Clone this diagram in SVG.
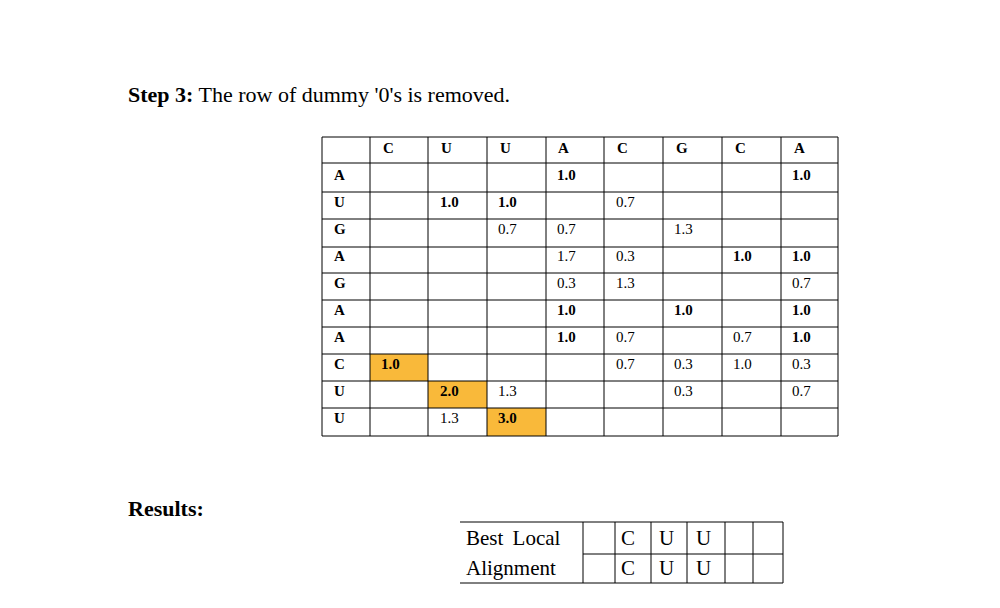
<svg xmlns="http://www.w3.org/2000/svg" width="1000" height="608" viewBox="0 0 1000 608">
<style>
text{font-family:"Liberation Serif","Times New Roman",serif;fill:#000}
.t{font-size:15px}.b{font-weight:bold}
.g line{stroke:#000;stroke-width:1}
.h{font-size:21px}
</style>
<rect width="1000" height="608" fill="#fff"/>
<text x="128" y="102" style="font-size:22px"><tspan font-weight="bold">Step 3:</tspan> The row of dummy '0's is removed.</text>
<text x="128" y="516" class="b" style="font-size:22px">Results:</text>
<g id="highlights" fill="#f9b93a">
<rect x="370" y="354" width="58" height="27"/>
<rect x="428" y="381" width="59" height="27"/>
<rect x="487" y="408" width="59" height="28"/>
</g>
<g id="grid" class="g">
<line x1="322" y1="137" x2="838" y2="137"/><line x1="322" y1="163" x2="838" y2="163"/>
<line x1="322" y1="192" x2="838" y2="192"/><line x1="322" y1="219" x2="838" y2="219"/>
<line x1="322" y1="247" x2="838" y2="247"/><line x1="322" y1="273" x2="838" y2="273"/>
<line x1="322" y1="300" x2="838" y2="300"/><line x1="322" y1="327" x2="838" y2="327"/>
<line x1="322" y1="354" x2="838" y2="354"/><line x1="322" y1="381" x2="838" y2="381"/>
<line x1="322" y1="408" x2="838" y2="408"/><line x1="322" y1="436" x2="838" y2="436"/>
<line x1="322" y1="137" x2="322" y2="436"/><line x1="370" y1="137" x2="370" y2="436"/>
<line x1="428" y1="137" x2="428" y2="436"/><line x1="487" y1="137" x2="487" y2="436"/>
<line x1="546" y1="137" x2="546" y2="436"/><line x1="604" y1="137" x2="604" y2="436"/>
<line x1="663" y1="137" x2="663" y2="436"/><line x1="722" y1="137" x2="722" y2="436"/>
<line x1="781" y1="137" x2="781" y2="436"/><line x1="838" y1="137" x2="838" y2="436"/>
</g>
<g id="headers" class="t b">
<text x="383" y="153">C</text><text x="441" y="153">U</text><text x="500" y="153">U</text><text x="558" y="153">A</text>
<text x="617" y="153">C</text><text x="676" y="153">G</text><text x="735" y="153">C</text><text x="794" y="153">A</text>
<text x="334" y="180">A</text><text x="334" y="207">U</text><text x="334" y="234">G</text><text x="334" y="261">A</text>
<text x="334" y="288">G</text><text x="334" y="315">A</text><text x="334" y="342">A</text><text x="334" y="369">C</text>
<text x="334" y="396">U</text><text x="334" y="423">U</text>
</g>
<g id="values" class="t">
<g class="b">
<text x="557" y="180">1.0</text><text x="792" y="180">1.0</text>
<text x="440" y="207">1.0</text><text x="498" y="207">1.0</text>
<text x="733" y="261">1.0</text><text x="792" y="261">1.0</text>
<text x="557" y="315">1.0</text><text x="674" y="315">1.0</text><text x="792" y="315">1.0</text>
<text x="557" y="342">1.0</text><text x="792" y="342">1.0</text>
<text x="381" y="369">1.0</text><text x="440" y="396">2.0</text><text x="498" y="423">3.0</text>
</g>
<text x="616" y="207">0.7</text>
<text x="498" y="234">0.7</text><text x="557" y="234">0.7</text><text x="674" y="234">1.3</text>
<text x="557" y="261">1.7</text><text x="616" y="261">0.3</text>
<text x="557" y="288">0.3</text><text x="616" y="288">1.3</text><text x="792" y="288">0.7</text>
<text x="616" y="342">0.7</text><text x="733" y="342">0.7</text>
<text x="616" y="369">0.7</text><text x="674" y="369">0.3</text><text x="733" y="369">1.0</text><text x="792" y="369">0.3</text>
<text x="498" y="396">1.3</text><text x="674" y="396">0.3</text><text x="792" y="396">0.7</text>
<text x="440" y="423">1.3</text>
</g>
<g id="results" class="g">
<line x1="460" y1="522" x2="783" y2="522"/>
<line x1="583" y1="554" x2="783" y2="554"/>
<line x1="460" y1="583" x2="783" y2="583"/>
<line x1="583" y1="522" x2="583" y2="583"/><line x1="615" y1="522" x2="615" y2="583"/>
<line x1="651" y1="522" x2="651" y2="583"/><line x1="687" y1="522" x2="687" y2="583"/>
<line x1="725" y1="522" x2="725" y2="583"/><line x1="753" y1="522" x2="753" y2="583"/>
<line x1="783" y1="522" x2="783" y2="583"/>
<text x="466" y="545" class="h" word-spacing="4">Best Local</text>
<text x="466" y="575" class="h">Alignment</text>
<text x="621" y="545" class="h">C</text><text x="659" y="545" class="h">U</text><text x="696" y="545" class="h">U</text>
<text x="621" y="575" class="h">C</text><text x="659" y="575" class="h">U</text><text x="696" y="575" class="h">U</text>
</g>
</svg>
